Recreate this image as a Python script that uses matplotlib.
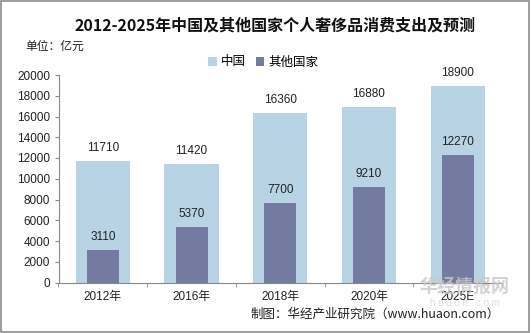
import matplotlib
matplotlib.use("Agg")
import matplotlib.pyplot as plt
from matplotlib.patches import Rectangle

categories = ["2012年", "2016年", "2018年", "2020年", "2025E"]
china = [11710, 11420, 16360, 16880, 18900]
others = [3110, 5370, 7700, 9210, 12270]
yticks = [0, 2000, 4000, 6000, 8000, 10000, 12000, 14000, 16000, 18000, 20000]

plt.rcParams['font.family'] = ['Liberation Sans', 'Noto Sans CJK SC', 'DejaVu Sans']

W, H = 531, 333
fig = plt.figure(figsize=(W/100, H/100), dpi=100)
fig.patch.set_facecolor('white')
fig.patches.append(Rectangle((0.002, 0.003), 0.995, 0.994, transform=fig.transFigure,
                             fill=False, edgecolor='#8c8c8c', linewidth=1.2))

ax = fig.add_axes([58.5/W, 1-282.5/H, (502-58.5)/W, (282.5-75)/H])
x = range(len(categories))
c_light = '#b8d3e4'
c_dark = '#737ca0'
b1 = ax.bar(x, china, width=0.61, color=c_light, label='中国', zorder=2)
b2 = ax.bar(x, others, width=0.36, color=c_dark, label='其他国家', zorder=3)

for xi, v in zip(x, china):
    ax.annotate(f"{v}", (xi, v), xytext=(0, 5), textcoords='offset points',
                ha='center', va='bottom', fontsize=8.5, color='#222222')
for xi, v in zip(x, others):
    ax.annotate(f"{v}", (xi, v), xytext=(0, 5), textcoords='offset points',
                ha='center', va='bottom', fontsize=8.5, color='#222222')

ax.set_xlim(-0.5, len(categories)-0.5)
ax.set_ylim(0, 20000)
ax.set_yticks(yticks)
ax.set_yticklabels([str(t) for t in yticks], fontsize=8.5, color='#222222')
ax.set_xticks(list(x))
ax.set_xticklabels(categories, fontsize=8.5, color='#222222')
ax.tick_params(axis='x', length=0, pad=6)
ax.tick_params(axis='y', length=3, color='#888888', pad=3)
ax.set_xticks([i-0.5 for i in range(len(categories)+1)], minor=True)
ax.tick_params(axis='x', which='minor', length=3, color='#888888', direction='out')
for s in ['top', 'right']:
    ax.spines[s].set_visible(False)
ax.spines['left'].set_color('#888888')
ax.spines['bottom'].set_color('#888888')
ax.set_facecolor('white')

fig.text(275/W, 1-26/H, "2012-2025年中国及其他国家个人奢侈品消费支出及预测",
         ha='center', va='center', fontsize=11.5, fontweight='bold',
         family=['Noto Sans CJK SC', 'DejaVu Sans'], color='#111111')
fig.text(25/W, 1-46/H, "单位：亿元", ha='left', va='center', fontsize=8.5,
         family=['Noto Sans CJK SC', 'DejaVu Sans'], color='#222222')

leg = fig.legend(handles=[b1, b2], loc='center', bbox_to_anchor=(263/W, 1-62/H),
                 ncol=2, frameon=False, fontsize=9, handlelength=0.7, handleheight=0.7,
                 handletextpad=0.3, columnspacing=0.8,
                 prop={'family': ['Noto Sans CJK SC'], 'size': 9})

# watermark
fig.text(465/W, 1-287/H, "华经情报网", ha='center', va='center', fontsize=13,
         fontweight='bold', color='#c8c8c8', alpha=0.8,
         family=['Noto Sans CJK SC'])
fig.text(465/W, 1-303/H, "h u a o n . c o m", ha='center', va='center', fontsize=7,
         color='#d5d5d5', alpha=0.8)

fig.text(500/W, 1-314/H, "制图：华经产业研究院（www.huaon.com）", ha='right', va='center',
         fontsize=9, color='#222222', family=['Noto Sans CJK SC', 'DejaVu Sans'])

fig.savefig("out.png", dpi=100)
